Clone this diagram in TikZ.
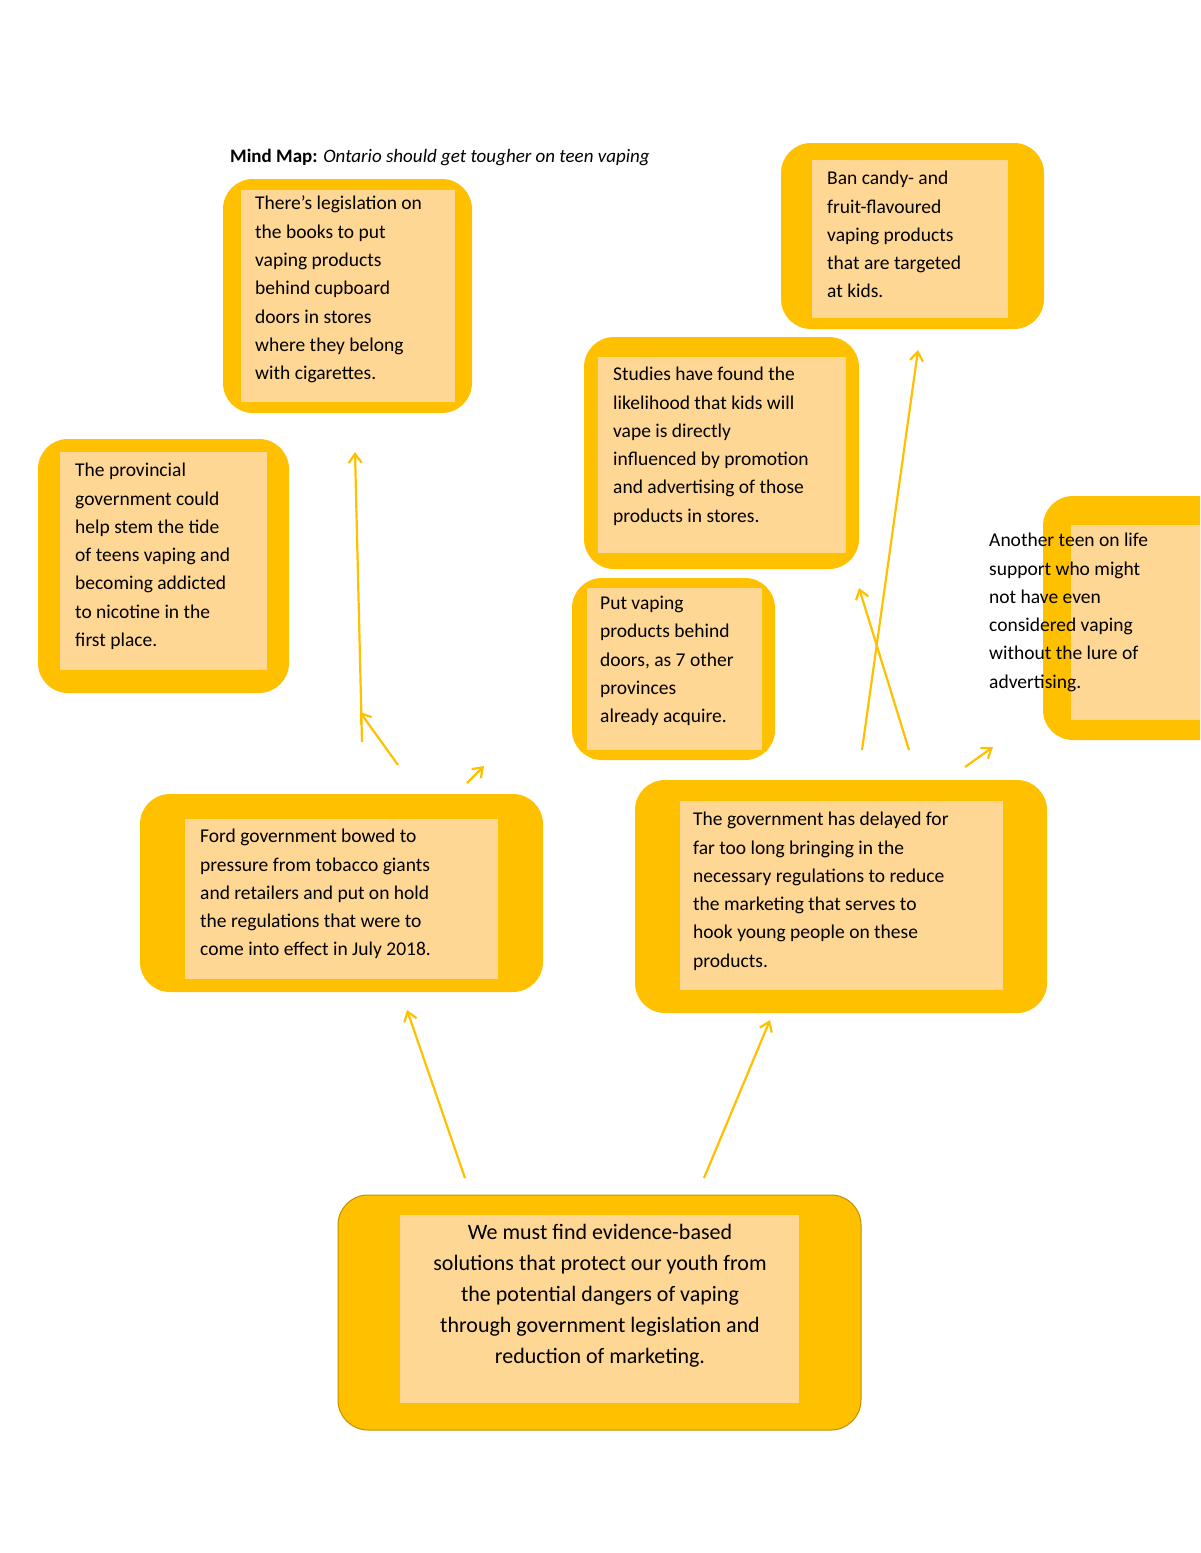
\documentclass[tikz,border=0pt]{standalone}
\usepackage{fontspec}
\setmainfont{Carlito}
\usetikzlibrary{arrows.meta}
\definecolor{outerA}{HTML}{FFC000}
\definecolor{outerB}{HTML}{FCC440}
\definecolor{innerC}{HTML}{FFD794}
\definecolor{arrC}{HTML}{FFC000}
\tikzset{
 outerbox/.style={fill=outerA, rounded corners=30pt, draw=none},
 innerbox/.style={fill=innerC, draw=none},
 txt/.style={anchor=north west, inner sep=0pt, align=left, font=\fontsize{19.5}{28.3}\selectfont},
 conn/.style={draw=arrC, line width=2.2pt, -{Straight Barb[length=9pt,width=13pt,line width=2.2pt]}},
}
\begin{document}
\begin{tikzpicture}[x=1pt,y=-1pt]
\useasboundingbox (0,0) rectangle (1200,1553);
\clip (0,0) rectangle (1200,1553);
\node[anchor=base west, inner sep=0pt, font=\fontsize{19}{23}\selectfont] (title) at (230,162) {\textbf{Mind Map:} \textit{Ontario should get tougher on teen vaping}};
% boxes
\path[outerbox] (223,179) rectangle (472,413);
\path[innerbox] (241,190) rectangle (455,402);
\node[txt] (leg) at (255,196) {There’s legislation on\\the books to put\\vaping products\\behind cupboard\\doors in stores\\where they belong\\with cigarettes.};
\path[outerbox] (781,143) rectangle (1044,329);
\path[innerbox] (812,160) rectangle (1008,318);
\node[txt] (ban) at (827,171) {Ban candy- and\\fruit-flavoured\\vaping products\\that are targeted\\at kids.};
\path[outerbox] (584,337) rectangle (859,569);
\path[innerbox] (598,357) rectangle (846,553);
\node[txt] (stu) at (613,367) {Studies have found the\\likelihood that kids will\\vape is directly\\influenced by promotion\\and advertising of those\\products in stores.};
\path[outerbox] (38,439) rectangle (289,693);
\path[innerbox] (60,452) rectangle (267,670);
\node[txt] (prov) at (75,463) {The provincial\\government could\\help stem the tide\\of teens vaping and\\becoming addicted\\to nicotine in the\\first place.};
\path[outerbox] (572,578) rectangle (775,760);
\path[innerbox] (587,588) rectangle (762,750);
\node[txt] (put) at (600,596) {Put vaping\\products behind\\doors, as 7 other\\provinces\\already acquire.};
\path[outerbox] (1043,496) rectangle (1240,740);
\path[innerbox] (1071,525) rectangle (1220,720);
\node[txt] (ano) at (989,533) {Another teen on life\\support who might\\not have even\\considered vaping\\without the lure of\\advertising.};
\path[outerbox] (140,794) rectangle (543,992);
\path[innerbox] (185,819) rectangle (498,979);
\node[txt] (ford) at (200,829) {Ford government bowed to\\pressure from tobacco giants\\and retailers and put on hold\\the regulations that were to\\come into effect in July 2018.};
\path[outerbox] (635,780) rectangle (1047,1013);
\path[innerbox] (680,801) rectangle (1003,990);
\node[txt] (gov) at (693,812) {The government has delayed for\\far too long bringing in the\\necessary regulations to reduce\\the marketing that serves to\\hook young people on these\\products.};
\path[outerbox, draw=black!25!outerA, line width=1pt] (338,1195) rectangle (861,1430);
\path[innerbox] (400,1215) rectangle (799,1403);
\node[anchor=north, inner sep=0pt, align=center, font=\fontsize{22}{31}\selectfont] (main) at (600,1224) {We must find evidence-based\\solutions that protect our youth from\\the potential dangers of vaping\\through government legislation and\\reduction of marketing.};
% arrows
\coordinate (a1) at (465,1178); \coordinate (b1) at (407,1010);
\coordinate (a2) at (704,1178); \coordinate (b2) at (770,1020);
\coordinate (a3) at (362,742); \coordinate (b3) at (355,452);
\coordinate (a4) at (398,765); \coordinate (b4) at (360,712);
\coordinate (a5) at (467,783); \coordinate (b5) at (484,766);
\coordinate (a6) at (862,750); \coordinate (b6) at (918,350);
\coordinate (a7) at (909,750); \coordinate (b7) at (859,588);
\coordinate (a8) at (965,767); \coordinate (b8) at (993,747);
\foreach \i in {1,...,8} {\draw[conn] (a\i) -- (b\i);}
\end{tikzpicture}
\end{document}
